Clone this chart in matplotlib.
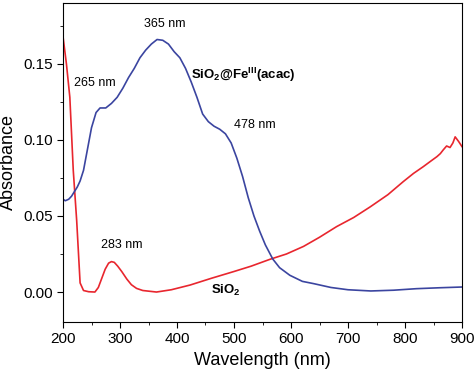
import matplotlib.pyplot as plt
from matplotlib.ticker import MultipleLocator

# ---------------------------------
# Data
# ---------------------------------
wl_fe = [200, 204, 210, 215, 220, 225, 230, 236, 242, 250, 258, 265, 275, 285,
         295, 305, 315, 325, 335, 345, 355, 365, 375, 385, 395, 405, 415, 425,
         435, 445, 455, 465, 475, 485, 495, 505, 515, 525, 535, 545, 555, 568,
         580, 598, 620, 640, 670, 700, 740, 780, 820, 860, 900]
abs_fe = [0.061, 0.060, 0.061, 0.063, 0.066, 0.069, 0.073, 0.080, 0.092, 0.108,
          0.118, 0.121, 0.121, 0.124, 0.128, 0.134, 0.141, 0.147, 0.154, 0.159,
          0.163, 0.166, 0.1655, 0.163, 0.158, 0.154, 0.147, 0.138, 0.128, 0.117,
          0.112, 0.109, 0.107, 0.104, 0.098, 0.088, 0.076, 0.062, 0.050, 0.040,
          0.031, 0.0217, 0.016, 0.011, 0.007, 0.0055, 0.003, 0.0015, 0.0007,
          0.0012, 0.0022, 0.0028, 0.0033]

wl_si = [200, 206, 212, 218, 224, 230, 236, 245, 256, 262, 268, 274, 280, 285,
         290, 296, 303, 312, 320, 329, 340, 364, 390, 423, 460, 500, 530, 563,
         592, 622, 650, 680, 710, 739, 770, 797, 815, 832, 845, 856, 862, 867,
         873, 879, 884, 888, 894, 900]
abs_si = [0.168, 0.150, 0.128, 0.080, 0.047, 0.006, 0.001, 0.0002, 0.0, 0.003,
          0.009, 0.015, 0.019, 0.020, 0.0195, 0.017, 0.0135, 0.0085, 0.0048,
          0.0024, 0.001, 0.0, 0.0015, 0.0046, 0.009, 0.0135, 0.017, 0.0215,
          0.025, 0.030, 0.036, 0.043, 0.049, 0.056, 0.064, 0.0726, 0.078, 0.0824,
          0.086, 0.089, 0.091, 0.0934, 0.096, 0.095, 0.098, 0.102, 0.099, 0.0956]

peak_labels = ["365 nm", "265 nm", "478 nm", "283 nm"]
peak_pos = [(379, 0.176), (256, 0.1375), (537, 0.110), (303, 0.031)]

# ---------------------------------
# Plot
# ---------------------------------
plt.rcParams["font.family"] = ["Liberation Sans", "DejaVu Sans"]
plt.rcParams["mathtext.fontset"] = "custom"
plt.rcParams["mathtext.rm"] = "Liberation Sans"
plt.rcParams["mathtext.bf"] = "Liberation Sans:bold"

fig = plt.figure(figsize=(4.74, 3.75), dpi=100)
ax = fig.add_axes([63 / 474, 53 / 375, 399 / 474, 319 / 375])

ax.plot(wl_si, abs_si, color="#e8262e", lw=1.2)
ax.plot(wl_fe, abs_fe, color="#3b45a0", lw=1.2)

ax.set_xlim(200, 900)
ax.set_ylim(-0.0197, 0.19)
ax.xaxis.set_major_locator(MultipleLocator(100))
ax.xaxis.set_minor_locator(MultipleLocator(50))
ax.yaxis.set_major_locator(MultipleLocator(0.05))
ax.yaxis.set_minor_locator(MultipleLocator(0.025))
ax.yaxis.set_major_formatter(plt.FormatStrFormatter("%.2f"))
ax.tick_params(which="major", length=4, labelsize=11)
ax.tick_params(which="minor", length=2.5)

for lbl, (x, y) in zip(peak_labels, peak_pos):
    ax.text(x, y, lbl, fontsize=9, ha="center", va="center")

ax.text(425, 0.143, r"$\mathbf{SiO_2@Fe^{III}(acac)}$", fontsize=9.5,
        ha="left", va="center")
ax.text(460, 0.0013, r"$\mathbf{SiO_2}$", fontsize=9.5, ha="left", va="center")

ax.set_xlabel("Wavelength (nm)", fontsize=13)
ax.set_ylabel("Absorbance", fontsize=13)

plt.savefig("out.png", dpi=100)
